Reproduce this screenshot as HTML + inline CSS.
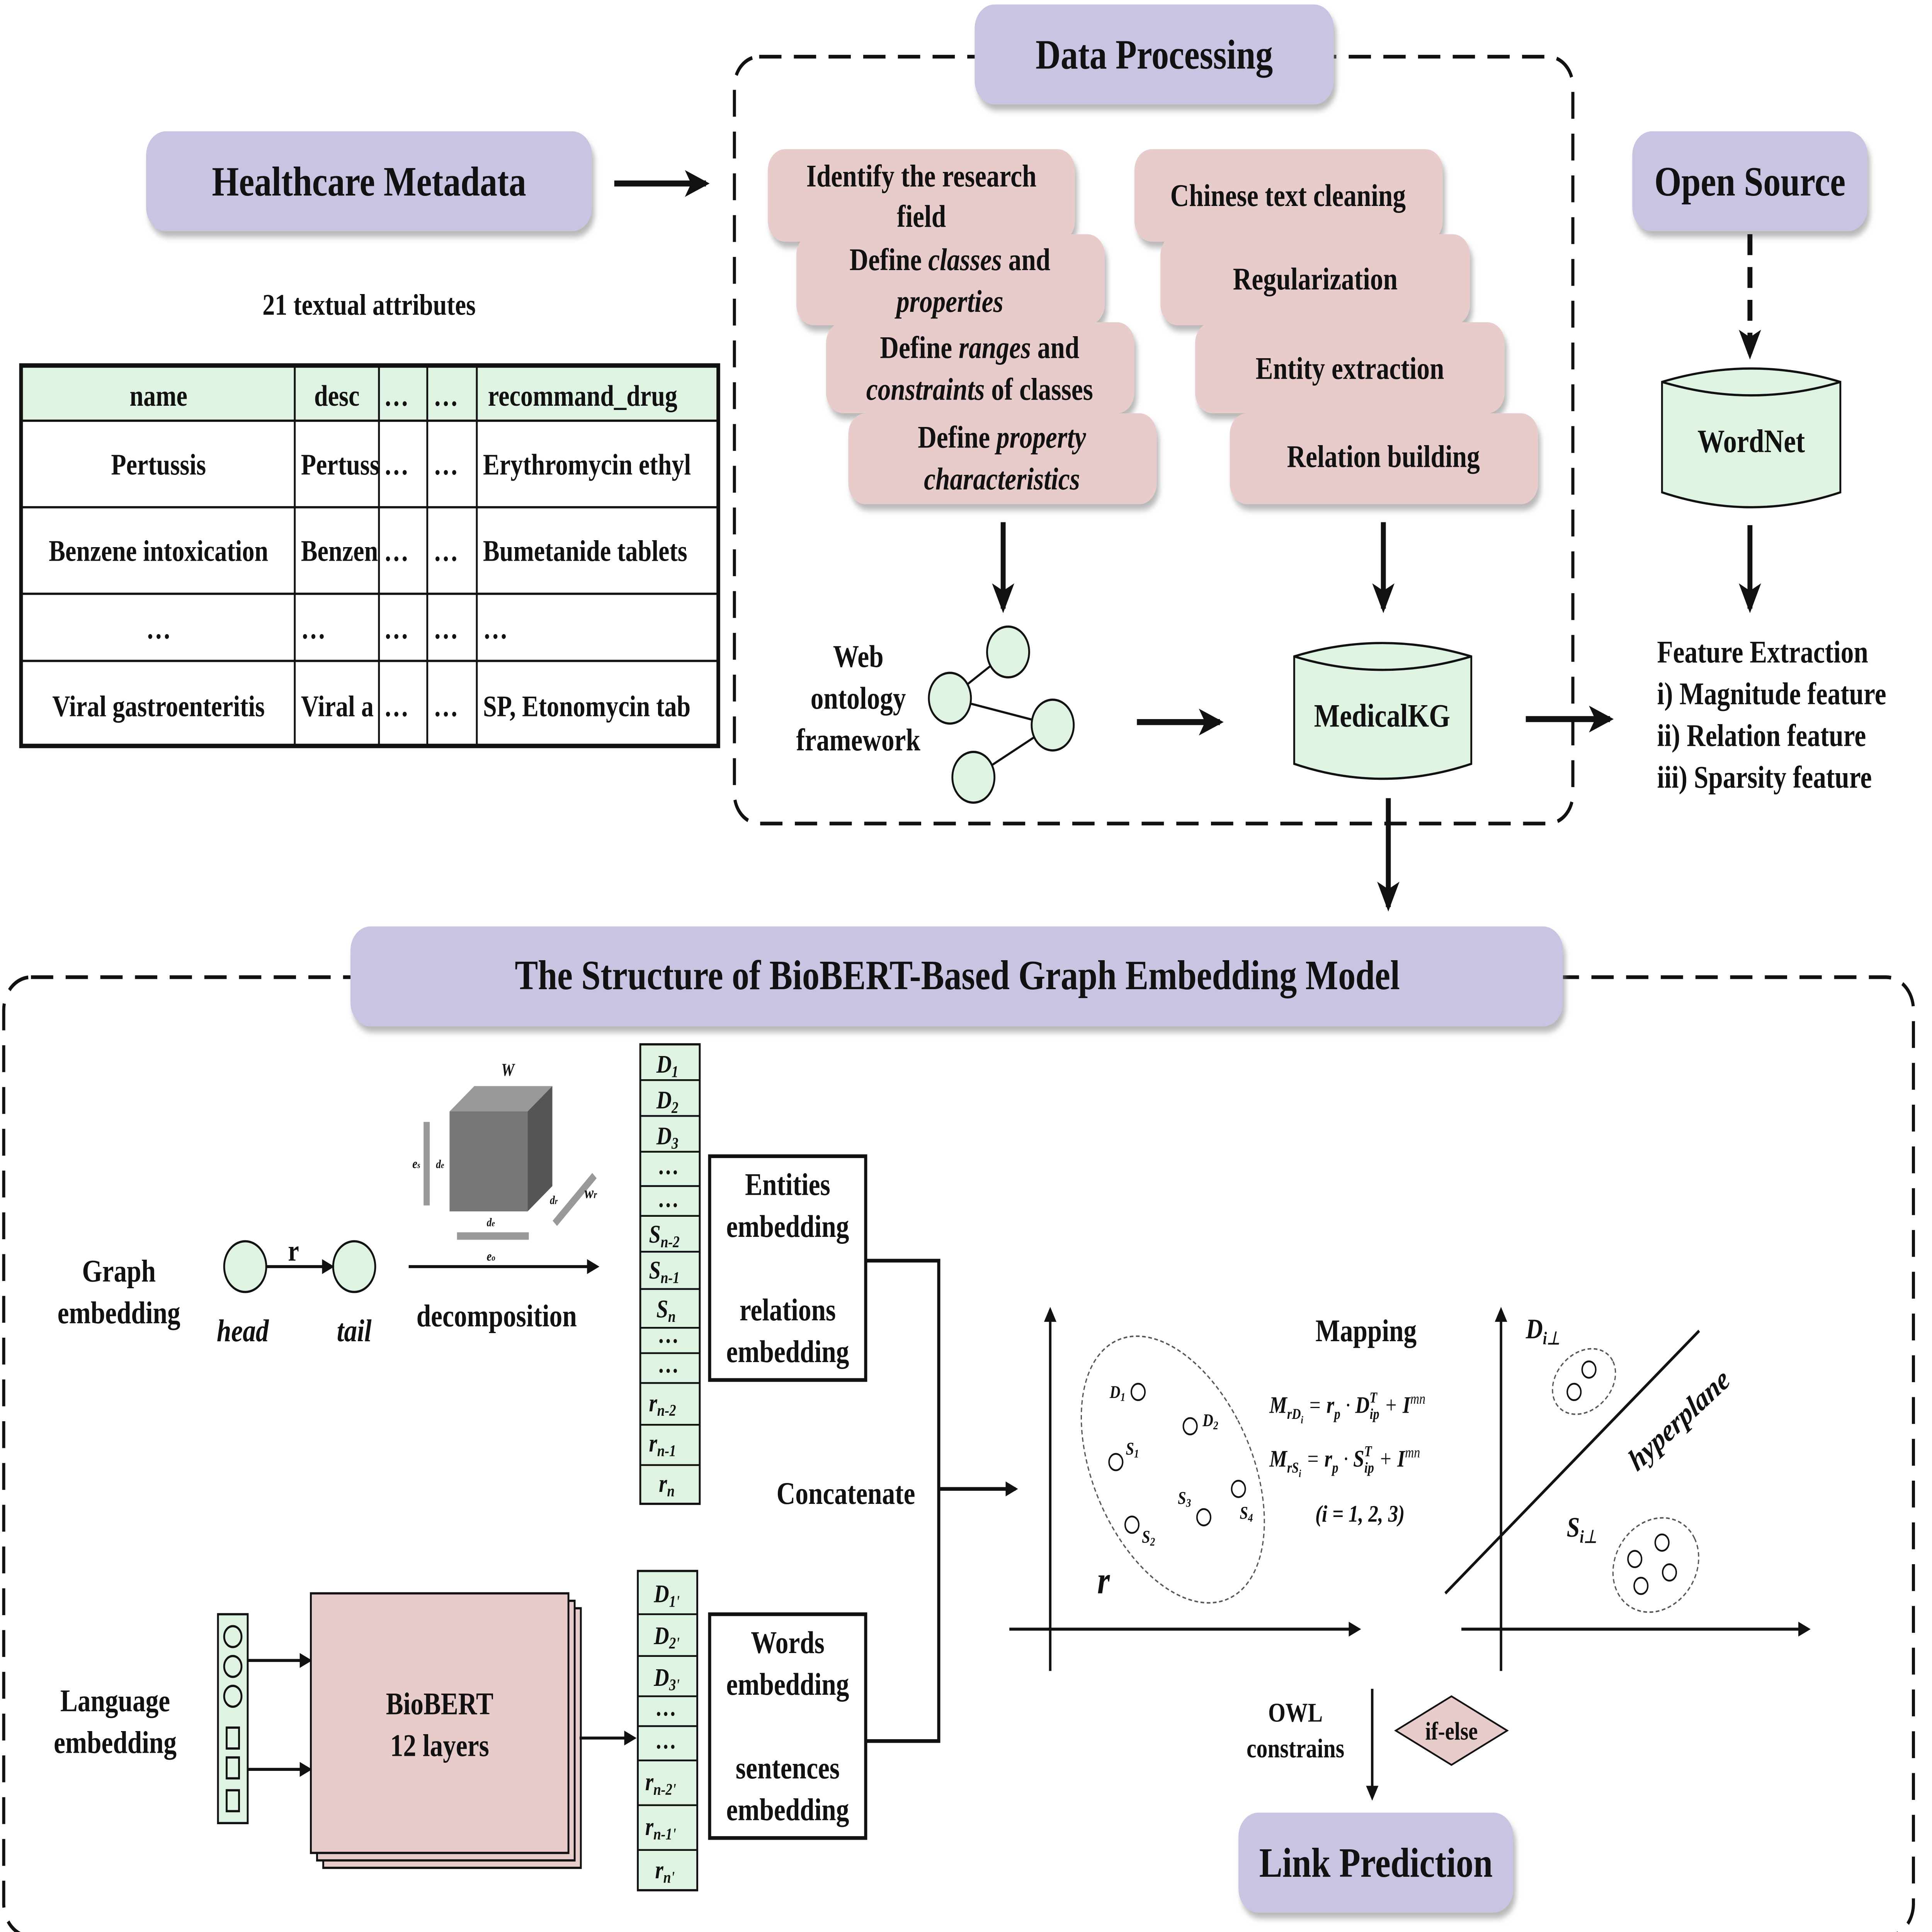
<!DOCTYPE html>
<html><head><meta charset="utf-8"><style>
html,body{margin:0;padding:0;background:#fff;overflow:hidden;width:100vw;height:100vh;}
svg{display:block;width:100vw;height:100vh;}
text{font-family:"Liberation Serif",serif;font-weight:bold;fill:#111;}
</style></head><body>
<svg viewBox="0 0 1560 1295" preserveAspectRatio="none" xmlns="http://www.w3.org/2000/svg">
<defs>
<filter id="sh" x="-10%" y="-10%" width="130%" height="140%"><feDropShadow dx="2" dy="4" stdDeviation="2" flood-color="#888" flood-opacity="0.6"/></filter>
<marker id="ar" markerWidth="10" markerHeight="10" refX="8" refY="5" orient="auto" markerUnits="userSpaceOnUse"><path d="M0,0 L10,5 L0,10 Z" fill="#111"/></marker>
<marker id="ab" markerWidth="20" markerHeight="18" refX="17" refY="9" orient="auto" markerUnits="userSpaceOnUse"><path d="M0,0 L20,9 L0,18 L5,9 Z" fill="#111"/></marker>
</defs>

<rect x="118" y="88" width="360" height="67" rx="16" fill="#c8c4e2" filter="url(#sh)"/>
<text x="298" y="131" font-size="28" text-anchor="middle">Healthcare Metadata</text>
<line x1="496" y1="123" x2="570" y2="123" stroke="#111" stroke-width="4" marker-end="url(#ab)"/>
<text x="298" y="211" font-size="20" text-anchor="middle">21 textual attributes</text>

<rect x="17" y="245" width="563" height="37" fill="#dff3e3"/>
<g stroke="#111" stroke-width="1.5" fill="none">
<rect x="17" y="245" width="563" height="255" stroke-width="3"/>
<line x1="17" y1="282" x2="580" y2="282"/><line x1="17" y1="340" x2="580" y2="340"/>
<line x1="17" y1="398" x2="580" y2="398"/><line x1="17" y1="443" x2="580" y2="443"/>
<line x1="238" y1="245" x2="238" y2="500"/><line x1="306" y1="245" x2="306" y2="500"/>
<line x1="345" y1="245" x2="345" y2="500"/><line x1="385" y1="245" x2="385" y2="500"/>
</g>
<clipPath id="c1"><rect x="238" y="245" width="68" height="255"/></clipPath>
<clipPath id="c2"><rect x="385" y="245" width="195" height="255"/></clipPath>
<g font-size="20">
<text x="128" y="272" text-anchor="middle">name</text>
<text x="272" y="272" text-anchor="middle">desc</text>
<text x="320" y="272" text-anchor="middle">…</text><text x="360" y="272" text-anchor="middle">…</text>
<text x="394" y="272">recommand_drug</text>
<text x="128" y="318" text-anchor="middle">Pertussis</text>
<text x="128" y="376" text-anchor="middle">Benzene intoxication</text>
<text x="128" y="428" text-anchor="middle">…</text>
<text x="128" y="480" text-anchor="middle">Viral gastroenteritis</text>
<g clip-path="url(#c1)"><text x="243" y="318">Pertussis</text><text x="243" y="376">Benzene</text><text x="243" y="428">…</text><text x="243" y="480">Viral a</text></g>
<text x="320" y="318" text-anchor="middle">…</text><text x="360" y="318" text-anchor="middle">…</text>
<text x="320" y="376" text-anchor="middle">…</text><text x="360" y="376" text-anchor="middle">…</text>
<text x="320" y="428" text-anchor="middle">…</text><text x="360" y="428" text-anchor="middle">…</text>
<text x="320" y="480" text-anchor="middle">…</text><text x="360" y="480" text-anchor="middle">…</text>
<g clip-path="url(#c2)"><text x="390" y="318">Erythromycin ethyl</text><text x="390" y="376">Bumetanide tablets</text><text x="390" y="428">…</text><text x="390" y="480">SP, Etonomycin tab</text></g>
</g>

<rect x="593" y="38" width="677" height="514" rx="20" fill="none" stroke="#111" stroke-width="2.5" stroke-dasharray="18,10"/>
<rect x="787" y="3" width="290" height="67" rx="16" fill="#c8c4e2" filter="url(#sh)"/>
<text x="932" y="46" font-size="28" text-anchor="middle">Data Processing</text>

<g font-size="21" text-anchor="middle">
<rect x="620" y="100" width="248" height="62" rx="14" fill="#e8cccc" filter="url(#sh)"/>
<text x="744" y="125">Identify the research</text><text x="744" y="152">field</text>
<rect x="643" y="157" width="249" height="61" rx="14" fill="#e8cccc" filter="url(#sh)"/>
<text x="767" y="181">Define <tspan font-style="italic">classes</tspan> and</text><text x="767" y="209" font-style="italic">properties</text>
<rect x="667" y="216" width="249" height="61" rx="14" fill="#e8cccc" filter="url(#sh)"/>
<text x="791" y="240">Define <tspan font-style="italic">ranges</tspan> and</text><text x="791" y="268"><tspan font-style="italic">constraints</tspan> of classes</text>
<rect x="685" y="277" width="249" height="61" rx="14" fill="#e8cccc" filter="url(#sh)"/>
<text x="809" y="300">Define <tspan font-style="italic">property</tspan></text><text x="809" y="328" font-style="italic">characteristics</text>

<rect x="916" y="100" width="249" height="62" rx="14" fill="#e8cccc" filter="url(#sh)"/>
<text x="1040" y="138">Chinese text cleaning</text>
<rect x="937" y="157" width="250" height="61" rx="14" fill="#e8cccc" filter="url(#sh)"/>
<text x="1062" y="194">Regularization</text>
<rect x="965" y="216" width="250" height="61" rx="14" fill="#e8cccc" filter="url(#sh)"/>
<text x="1090" y="254">Entity extraction</text>
<rect x="993" y="277" width="249" height="61" rx="14" fill="#e8cccc" filter="url(#sh)"/>
<text x="1117" y="313">Relation building</text>
</g>
<line x1="810" y1="350" x2="810" y2="408" stroke="#111" stroke-width="4" marker-end="url(#ab)"/>
<line x1="1117" y1="350" x2="1117" y2="408" stroke="#111" stroke-width="4" marker-end="url(#ab)"/>

<g font-size="21" text-anchor="middle">
<text x="693" y="447">Web</text><text x="693" y="475">ontology</text><text x="693" y="503">framework</text>
</g>
<g stroke="#111" stroke-width="1.5">
<line x1="767" y1="468" x2="814" y2="437"/><line x1="767" y1="468" x2="850" y2="486"/><line x1="850" y1="486" x2="786" y2="521"/>
<g fill="#dff3e3"><circle cx="814" cy="437" r="17"/><circle cx="767" cy="468" r="17"/><circle cx="850" cy="486" r="17"/><circle cx="786" cy="521" r="17"/></g>
</g>
<line x1="918" y1="484" x2="985" y2="484" stroke="#111" stroke-width="4" marker-end="url(#ab)"/>

<path d="M1045,440 Q1116,422 1188,440 L1188,512 Q1116,532 1045,512 Z" fill="#dff3e3" stroke="#111" stroke-width="1.5"/>
<path d="M1045,440 Q1116,458 1188,440" fill="none" stroke="#111" stroke-width="1.5"/>
<text x="1116" y="487" font-size="22" text-anchor="middle">MedicalKG</text>
<line x1="1232" y1="482" x2="1300" y2="482" stroke="#111" stroke-width="4" marker-end="url(#ab)"/>
<line x1="1121" y1="535" x2="1121" y2="608" stroke="#111" stroke-width="4" marker-end="url(#ab)"/>

<rect x="1318" y="88" width="190" height="67" rx="16" fill="#c8c4e2" filter="url(#sh)"/>
<text x="1413" y="131" font-size="28" text-anchor="middle">Open Source</text>
<line x1="1413" y1="157" x2="1413" y2="238" stroke="#111" stroke-width="4" stroke-dasharray="14,8" marker-end="url(#ab)"/>
<path d="M1342,256 Q1414,238 1486,256 L1486,330 Q1414,350 1342,330 Z" fill="#dff3e3" stroke="#111" stroke-width="1.5"/>
<path d="M1342,256 Q1414,274 1486,256" fill="none" stroke="#111" stroke-width="1.5"/>
<text x="1414" y="303" font-size="22" text-anchor="middle">WordNet</text>
<line x1="1413" y1="352" x2="1413" y2="408" stroke="#111" stroke-width="4" marker-end="url(#ab)"/>
<g font-size="21">
<text x="1338" y="444">Feature Extraction</text>
<text x="1338" y="472">i)   Magnitude feature</text>
<text x="1338" y="500">ii)  Relation feature</text>
<text x="1338" y="528">iii) Sparsity feature</text>
</g>

<rect x="3" y="655" width="1542" height="643" rx="22" fill="none" stroke="#111" stroke-width="2.5" stroke-dasharray="18,10"/>
<rect x="283" y="621" width="979" height="67" rx="16" fill="#c8c4e2" filter="url(#sh)"/>
<text x="773" y="663" font-size="28" text-anchor="middle">The Structure of BioBERT-Based Graph Embedding Model</text>

<g font-size="21" text-anchor="middle">
<text x="96" y="859">Graph</text><text x="96" y="887">embedding</text>
<text x="93" y="1147">Language</text><text x="93" y="1175">embedding</text>
</g>
<circle cx="198" cy="849" r="17" fill="#dff3e3" stroke="#111" stroke-width="1.5"/>
<circle cx="286" cy="849" r="17" fill="#dff3e3" stroke="#111" stroke-width="1.5"/>
<line x1="215" y1="849" x2="268" y2="849" stroke="#111" stroke-width="2" marker-end="url(#ar)"/>
<text x="237" y="845" font-size="20" text-anchor="middle">r</text>
<text x="196" y="899" font-size="21" font-style="italic" text-anchor="middle">head</text>
<text x="286" y="899" font-size="21" font-style="italic" text-anchor="middle">tail</text>

<polygon points="363,745 383,728 446,728 426,745" fill="#999"/>
<polygon points="426,745 446,728 446,795 426,812" fill="#555"/>
<rect x="363" y="745" width="63" height="67" fill="#777"/>
<text x="410" y="721" font-size="12" font-style="italic" font-weight="normal" text-anchor="middle">W</text>
<rect x="342" y="752" width="5" height="56" fill="#999"/>
<rect x="369" y="826" width="58" height="5" fill="#999"/>
<line x1="448" y1="820" x2="480" y2="788" stroke="#999" stroke-width="5"/>
<text x="333" y="783" font-size="9" font-weight="normal" font-style="italic">e<tspan font-size="6">s</tspan></text>
<text x="352" y="783" font-size="8" font-weight="normal" font-style="italic">d<tspan font-size="6">e</tspan></text>
<text x="393" y="822" font-size="8" font-weight="normal" font-style="italic">d<tspan font-size="6">e</tspan></text>
<text x="444" y="807" font-size="8" font-weight="normal" font-style="italic">d<tspan font-size="6">r</tspan></text>
<text x="472" y="803" font-size="11" font-weight="normal" font-style="italic">w<tspan font-size="7">r</tspan></text>
<text x="393" y="845" font-size="9" font-weight="normal" font-style="italic">e<tspan font-size="6">o</tspan></text>
<line x1="330" y1="849" x2="482" y2="849" stroke="#111" stroke-width="2" marker-end="url(#ar)"/>
<text x="401" y="889" font-size="21" text-anchor="middle">decomposition</text>

<rect x="517" y="700" width="48" height="308" fill="#dff3e3" stroke="#111" stroke-width="1.5"/>
<g stroke="#111" stroke-width="1.2">
<line x1="517" y1="724" x2="565" y2="724"/><line x1="517" y1="748" x2="565" y2="748"/><line x1="517" y1="772" x2="565" y2="772"/>
<line x1="517" y1="795" x2="565" y2="795"/><line x1="517" y1="815" x2="565" y2="815"/><line x1="517" y1="839" x2="565" y2="839"/>
<line x1="517" y1="864" x2="565" y2="864"/><line x1="517" y1="890" x2="565" y2="890"/><line x1="517" y1="907" x2="565" y2="907"/>
<line x1="517" y1="927" x2="565" y2="927"/><line x1="517" y1="955" x2="565" y2="955"/><line x1="517" y1="982" x2="565" y2="982"/>
</g>
<g font-size="17" font-style="italic">
<text x="530" y="719">D<tspan font-size="11" dy="3">1</tspan></text>
<text x="530" y="743">D<tspan font-size="11" dy="3">2</tspan></text>
<text x="530" y="767">D<tspan font-size="11" dy="3">3</tspan></text>
<text x="531" y="787" font-style="normal">…</text>
<text x="531" y="809" font-style="normal">…</text>
<text x="524" y="833">S<tspan font-size="11" dy="3">n-2</tspan></text>
<text x="524" y="857">S<tspan font-size="11" dy="3">n-1</tspan></text>
<text x="530" y="883">S<tspan font-size="11" dy="3">n</tspan></text>
<text x="531" y="900" font-style="normal">…</text>
<text x="531" y="920" font-style="normal">…</text>
<text x="524" y="946">r<tspan font-size="11" dy="3">n-2</tspan></text>
<text x="524" y="973">r<tspan font-size="11" dy="3">n-1</tspan></text>
<text x="532" y="1000">r<tspan font-size="11" dy="3">n</tspan></text>
</g>
<rect x="573" y="775" width="126" height="150" fill="#fff" stroke="#111" stroke-width="2.5"/>
<g font-size="21" text-anchor="middle">
<text x="636" y="801">Entities</text><text x="636" y="829">embedding</text>
<text x="636" y="885">relations</text><text x="636" y="913">embedding</text>
</g>

<rect x="515" y="1053" width="48" height="214" fill="#dff3e3" stroke="#111" stroke-width="1.5"/>
<g stroke="#111" stroke-width="1.2">
<line x1="515" y1="1082" x2="563" y2="1082"/><line x1="515" y1="1110" x2="563" y2="1110"/><line x1="515" y1="1137" x2="563" y2="1137"/>
<line x1="515" y1="1157" x2="563" y2="1157"/><line x1="515" y1="1180" x2="563" y2="1180"/><line x1="515" y1="1210" x2="563" y2="1210"/>
<line x1="515" y1="1240" x2="563" y2="1240"/>
</g>
<g font-size="17" font-style="italic">
<text x="528" y="1074">D<tspan font-size="11" dy="3">1'</tspan></text>
<text x="528" y="1102">D<tspan font-size="11" dy="3">2'</tspan></text>
<text x="528" y="1130">D<tspan font-size="11" dy="3">3'</tspan></text>
<text x="529" y="1150" font-style="normal">…</text>
<text x="529" y="1172" font-style="normal">…</text>
<text x="521" y="1200">r<tspan font-size="11" dy="3">n-2'</tspan></text>
<text x="521" y="1230">r<tspan font-size="11" dy="3">n-1'</tspan></text>
<text x="529" y="1259">r<tspan font-size="11" dy="3">n'</tspan></text>
</g>
<rect x="573" y="1082" width="126" height="150" fill="#fff" stroke="#111" stroke-width="2.5"/>
<g font-size="21" text-anchor="middle">
<text x="636" y="1108">Words</text><text x="636" y="1136">embedding</text>
<text x="636" y="1192">sentences</text><text x="636" y="1220">embedding</text>
</g>

<polyline points="699,845 758,845 758,1167 699,1167" fill="none" stroke="#111" stroke-width="2.5"/>
<text x="683" y="1008" font-size="21" text-anchor="middle">Concatenate</text>
<line x1="758" y1="998" x2="820" y2="998" stroke="#111" stroke-width="2.5" marker-end="url(#ar)"/>

<rect x="176" y="1082" width="24" height="140" fill="#dff3e3" stroke="#111" stroke-width="1.5"/>
<g fill="#dff3e3" stroke="#111" stroke-width="1.5">
<circle cx="188" cy="1097" r="7"/><circle cx="188" cy="1117" r="7"/><circle cx="188" cy="1137" r="7"/>
<rect x="183" y="1158" width="10" height="14"/><rect x="183" y="1178" width="10" height="14"/><rect x="183" y="1200" width="10" height="14"/>
</g>
<line x1="200" y1="1113" x2="250" y2="1113" stroke="#111" stroke-width="2" marker-end="url(#ar)"/>
<line x1="200" y1="1186" x2="250" y2="1186" stroke="#111" stroke-width="2" marker-end="url(#ar)"/>
<rect x="261" y="1078" width="208" height="174" fill="#e8cccc" stroke="#111" stroke-width="1.5"/>
<rect x="256" y="1073" width="208" height="174" fill="#e8cccc" stroke="#111" stroke-width="1.5"/>
<rect x="251" y="1068" width="208" height="174" fill="#e8cccc" stroke="#111" stroke-width="1.5"/>
<text x="355" y="1149" font-size="21" text-anchor="middle">BioBERT</text>
<text x="355" y="1177" font-size="21" text-anchor="middle">12 layers</text>
<line x1="468" y1="1165" x2="512" y2="1165" stroke="#111" stroke-width="2" marker-end="url(#ar)"/>

<line x1="848" y1="1120" x2="848" y2="878" stroke="#111" stroke-width="2" marker-end="url(#ar)"/>
<line x1="815" y1="1092" x2="1097" y2="1092" stroke="#111" stroke-width="2" marker-end="url(#ar)"/>
<ellipse cx="947" cy="985" rx="62" ry="98" transform="rotate(-32 947 985)" fill="none" stroke="#555" stroke-width="1" stroke-dasharray="3,2"/>
<g fill="#fff" stroke="#111" stroke-width="1.2">
<circle cx="919" cy="933" r="5.5"/><circle cx="961" cy="956" r="5.5"/><circle cx="901" cy="980" r="5.5"/>
<circle cx="1000" cy="998" r="5.5"/><circle cx="972" cy="1017" r="5.5"/><circle cx="914" cy="1022" r="5.5"/>
</g>
<g font-size="12" font-style="italic">
<text x="896" y="937">D<tspan font-size="8" dy="2">1</tspan></text>
<text x="971" y="956">D<tspan font-size="8" dy="2">2</tspan></text>
<text x="909" y="975">S<tspan font-size="8" dy="2">1</tspan></text>
<text x="951" y="1008">S<tspan font-size="8" dy="2">3</tspan></text>
<text x="1001" y="1018">S<tspan font-size="8" dy="2">4</tspan></text>
<text x="922" y="1034">S<tspan font-size="8" dy="2">2</tspan></text>
</g>
<text x="886" y="1068" font-size="26" font-style="italic">r</text>
<text x="1103" y="899" font-size="21" text-anchor="middle">Mapping</text>
<g font-size="16" font-style="italic">
<text x="1025" y="947">M<tspan font-size="10" dy="4">rD</tspan><tspan font-size="7" dy="3">i</tspan><tspan dy="-7" font-weight="normal"> = </tspan>r<tspan font-size="10" dy="4">p</tspan><tspan dy="-4" font-weight="normal"> · </tspan>D<tspan font-size="10" dy="-7">T</tspan><tspan font-size="10" dx="-6" dy="11">ip</tspan><tspan dy="-4" font-weight="normal"> + </tspan>I<tspan font-size="10" dy="-6" font-weight="normal">mn</tspan></text>
<text x="1025" y="983">M<tspan font-size="10" dy="4">rS</tspan><tspan font-size="7" dy="3">i</tspan><tspan dy="-7" font-weight="normal"> = </tspan>r<tspan font-size="10" dy="4">p</tspan><tspan dy="-4" font-weight="normal"> · </tspan>S<tspan font-size="10" dy="-7">T</tspan><tspan font-size="10" dx="-6" dy="11">ip</tspan><tspan dy="-4" font-weight="normal"> + </tspan>I<tspan font-size="10" dy="-6" font-weight="normal">mn</tspan></text>
<text x="1062" y="1020" font-weight="normal">(i = 1, 2, 3)</text>
</g>

<line x1="1212" y1="1120" x2="1212" y2="878" stroke="#111" stroke-width="2" marker-end="url(#ar)"/>
<line x1="1180" y1="1092" x2="1460" y2="1092" stroke="#111" stroke-width="2" marker-end="url(#ar)"/>
<line x1="1167" y1="1068" x2="1372" y2="892" stroke="#111" stroke-width="2"/>
<text x="1360" y="957" font-size="21" font-style="italic" text-anchor="middle" transform="rotate(-38 1360 957)">hyperplane</text>
<text x="1232" y="897" font-size="19" font-style="italic">D<tspan font-size="12" dy="4">i⊥</tspan></text>
<text x="1265" y="1030" font-size="19" font-style="italic">S<tspan font-size="12" dy="4">i⊥</tspan></text>
<ellipse cx="1279" cy="926" rx="27" ry="20" transform="rotate(-30 1279 926)" fill="none" stroke="#555" stroke-width="1" stroke-dasharray="3,2"/>
<ellipse cx="1337" cy="1049" rx="36" ry="30" transform="rotate(-30 1337 1049)" fill="none" stroke="#555" stroke-width="1" stroke-dasharray="3,2"/>
<g fill="#fff" stroke="#111" stroke-width="1.2">
<circle cx="1283" cy="918" r="5.5"/><circle cx="1271" cy="933" r="5.5"/>
<circle cx="1342" cy="1034" r="5.5"/><circle cx="1320" cy="1045" r="5.5"/><circle cx="1348" cy="1054" r="5.5"/><circle cx="1325" cy="1063" r="5.5"/>
</g>

<g font-size="18" text-anchor="middle">
<text x="1046" y="1154">OWL</text><text x="1046" y="1178">constrains</text>
</g>
<line x1="1108" y1="1132" x2="1108" y2="1205" stroke="#111" stroke-width="2" marker-end="url(#ar)"/>
<polygon points="1127,1160 1172,1137 1217,1160 1172,1183" fill="#e8cccc" stroke="#111" stroke-width="1.2"/>
<text x="1172" y="1166" font-size="17" text-anchor="middle">if-else</text>
<rect x="1000" y="1215" width="222" height="67" rx="16" fill="#c8c4e2" filter="url(#sh)"/>
<text x="1111" y="1258" font-size="28" text-anchor="middle">Link Prediction</text>
</svg>
</body></html>
